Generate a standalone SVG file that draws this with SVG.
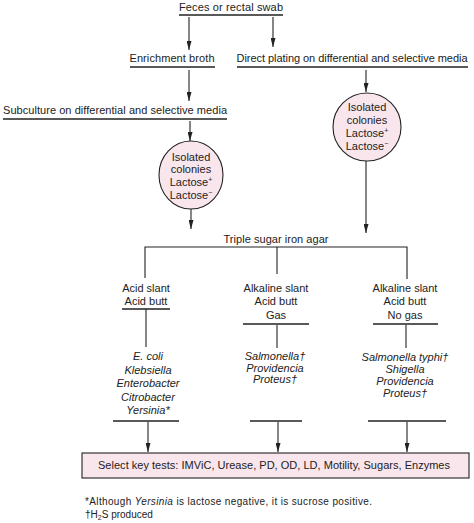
<svg xmlns="http://www.w3.org/2000/svg" width="474" height="523" viewBox="0 0 474 523">
<style>
text{font-family:"Liberation Sans",Arial,sans-serif;font-size:11px;fill:#222;}
.c{text-anchor:middle;}
.i{font-style:italic;}
.s{font-size:10px;}
.ul{stroke:#222;stroke-width:1.3;fill:none;}
.ln{stroke:#222;stroke-width:1.1;fill:none;}
.ar{stroke:#222;stroke-width:1.1;fill:none;marker-end:url(#ah);}
.pink{fill:#f9e6ec;stroke:#222;stroke-width:1.1;}
</style>
<defs>
<marker id="ah" markerUnits="userSpaceOnUse" markerWidth="9" markerHeight="5" refX="9" refY="2.5" orient="auto">
<path d="M0,0 L9,2.5 L0,5 z" fill="#222"/>
</marker>
</defs>
<rect width="474" height="523" fill="#fff"/>

<g id="connectors">
<line class="ar" x1="189" y1="17" x2="189" y2="50"/>
<line class="ar" x1="273" y1="17" x2="273" y2="47"/>
<line class="ar" x1="189" y1="70" x2="189" y2="101"/>
<line class="ar" x1="190" y1="121" x2="190" y2="141"/>
<line class="ar" x1="191" y1="209" x2="191" y2="229"/>
<line class="ar" x1="366" y1="70" x2="366" y2="92"/>
<line class="ar" x1="366" y1="161" x2="366" y2="233"/>
<polyline class="ln" points="145,278 145,247 407,247 407,279"/>
<line class="ln" x1="277" y1="247" x2="277" y2="274"/>
<line class="ln" x1="146" y1="309" x2="146" y2="347"/>
<line class="ln" x1="277" y1="325" x2="277" y2="348"/>
<line class="ln" x1="406" y1="325" x2="406" y2="348"/>
<line class="ar" x1="148" y1="422" x2="148" y2="452"/>
<line class="ar" x1="278" y1="422" x2="278" y2="452"/>
<line class="ar" x1="407" y1="422" x2="407" y2="452"/>
</g>

<g id="feces">
<text class="c" x="231" y="11" textLength="104">Feces or rectal swab</text>
<line class="ul" x1="179" y1="15" x2="283" y2="15"/>
</g>

<g id="enrichment">
<text class="c" x="172" y="62" textLength="85">Enrichment broth</text>
<line class="ul" x1="130" y1="67" x2="215" y2="67"/>
</g>

<g id="direct">
<text class="c" x="352" y="62" textLength="231">Direct plating on differential and selective media</text>
<line class="ul" x1="237" y1="67" x2="468" y2="67"/>
</g>

<g id="subculture">
<text class="c" x="115" y="114" textLength="224">Subculture on differential and selective media</text>
<line class="ul" x1="3" y1="119" x2="227" y2="119"/>
</g>

<g id="colonies-left">
<ellipse class="pink" cx="191" cy="175" rx="32" ry="34"/>
<text class="c" x="191" y="161">Isolated</text>
<text class="c" x="191" y="173">colonies</text>
<text class="c" x="191" y="186">Lactose<tspan font-size="7" dy="-4">+</tspan></text>
<text class="c" x="191" y="199">Lactose<tspan font-size="7" dy="-4">−</tspan></text>
</g>

<g id="colonies-right">
<circle class="pink" cx="367" cy="127" r="34"/>
<text class="c" x="367" y="111">Isolated</text>
<text class="c" x="367" y="124">colonies</text>
<text class="c" x="367" y="137">Lactose<tspan font-size="7" dy="-4">+</tspan></text>
<text class="c" x="367" y="150">Lactose<tspan font-size="7" dy="-4">−</tspan></text>
</g>

<g id="tsi">
<text class="c" x="276" y="243" textLength="105">Triple sugar iron agar</text>
</g>

<g id="acid-acid">
<text class="c" x="146" y="292">Acid slant</text>
<text class="c" x="146" y="305">Acid butt</text>
<line class="ul" x1="122" y1="309" x2="170" y2="309"/>
</g>

<g id="alk-acid-gas">
<text class="c" x="276" y="292">Alkaline slant</text>
<text class="c" x="276" y="305">Acid butt</text>
<text class="c" x="276" y="319" font-size="12">Gas</text>
<line class="ul" x1="243" y1="324" x2="309" y2="324"/>
</g>

<g id="alk-acid-nogas">
<text class="c" x="405" y="292">Alkaline slant</text>
<text class="c" x="405" y="305">Acid butt</text>
<text class="c" x="405" y="319" font-size="12">No gas</text>
<line class="ul" x1="373" y1="324" x2="438" y2="324"/>
</g>

<g id="list-left">
<text class="c i" x="148" y="360">E. coli</text>
<text class="c i" x="148" y="374">Klebsiella</text>
<text class="c i" x="148" y="387">Enterobacter</text>
<text class="c i" x="148" y="401">Citrobacter</text>
<text class="c i" x="148" y="414">Yersinia*</text>
<line class="ul" x1="113" y1="421" x2="179" y2="421"/>
</g>

<g id="list-middle">
<text class="c i" x="275" y="360">Salmonella†</text>
<text class="c i" x="275" y="372">Providencia</text>
<text class="c i" x="275" y="383">Proteus†</text>
<line class="ul" x1="250" y1="421" x2="302" y2="421"/>
</g>

<g id="list-right">
<text class="c i" x="405" y="361">Salmonella typhi†</text>
<text class="c i" x="405" y="373">Shigella</text>
<text class="c i" x="405" y="385">Providencia</text>
<text class="c i" x="405" y="397">Proteus†</text>
<line class="ul" x1="368" y1="421" x2="446" y2="421"/>
</g>

<g id="key-tests">
<rect class="pink" x="82" y="453" width="387" height="25"/>
<text class="c" x="274" y="469" textLength="352">Select key tests: IMViC, Urease, PD, OD, LD, Motility, Sugars, Enzymes</text>
</g>

<g id="footnotes">
<text class="s" x="85" y="505" textLength="287">*Although <tspan class="i">Yersinia</tspan> is lactose negative, it is sucrose positive.</text>
<text class="s" x="85" y="518">†H<tspan font-size="7" dy="2">2</tspan><tspan dy="-2">S produced</tspan></text>
</g>
</svg>
